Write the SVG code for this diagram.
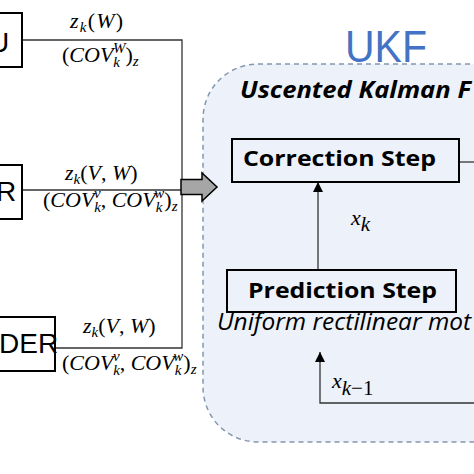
<svg xmlns="http://www.w3.org/2000/svg" width="474" height="474" viewBox="0 0 474 474">
<style>
.box{fill:#fff;stroke:#000;stroke-width:2}
.step{fill:none;stroke:#000;stroke-width:2}
.ln{fill:none;stroke:#333;stroke-width:1.3}
.src{font-family:"Liberation Sans",Arial,sans-serif;font-size:28px;fill:#000}
.m{font-family:"Liberation Serif","Times New Roman",serif;font-style:italic;font-size:22px;fill:#000}
.sub{font-size:15px}
.bold{font-family:"Open Sans","Liberation Sans",sans-serif;font-weight:bold;font-size:22px;fill:#000}
.it{font-family:"Open Sans","Liberation Sans",sans-serif;font-style:italic;font-size:23px;fill:#000}
</style>
<defs>
<marker id="ah" viewBox="0 0 10 10" refX="10" refY="5" markerWidth="10" markerHeight="10" markerUnits="userSpaceOnUse" orient="auto">
<path d="M0,0 L10,5 L0,10 z" fill="#000"/>
</marker>
</defs>
<rect width="474" height="474" fill="#fff"/>
<g id="ukf-container">
<rect x="203" y="64" width="340" height="378" rx="55" ry="55" fill="#edf1f9" stroke="#8497b0" stroke-width="1.5" stroke-dasharray="5,4"/>
<text x="386" y="62" text-anchor="middle" font-family="'Liberation Sans',Arial,sans-serif" font-size="44" fill="#4472c4" textLength="82" lengthAdjust="spacingAndGlyphs">UKF</text>
<text x="240" y="98" font-family="'Open Sans','Liberation Sans',sans-serif" font-weight="bold" font-style="italic" font-size="23" fill="#000" textLength="231" lengthAdjust="spacingAndGlyphs">Uscented Kalman F</text>
</g>
<g id="connectors">
<path class="ln" d="M22,40 H182 V348 H55"/>
<path class="ln" d="M22,190 H182"/>
<path d="M181,179.5 H202 V173 L217,187 L202,201 V194.5 H181 z" fill="#a6a6a6" stroke="#000" stroke-width="1.5"/>
<path class="ln" d="M459,162 H474"/>
<line class="ln" x1="318" y1="270" x2="318" y2="182" marker-end="url(#ah)"/>
<path class="ln" d="M474,403 H320 V352" marker-end="url(#ah)"/>
</g>
<g id="node-u">
<rect class="box" x="-40" y="13" width="62" height="54"/>
<text class="src" x="-11" y="52">U</text>
</g>
<g id="node-r">
<rect class="box" x="-40" y="165" width="62" height="54"/>
<text class="src" x="-4" y="201">R</text>
</g>
<g id="node-der">
<rect class="box" x="-40" y="317" width="95" height="54"/>
<text class="src" x="-1" y="353">DER</text>
</g>
<g id="labels-u">
<text class="m" x="70" y="28" textLength="53">z<tspan class="sub" dy="4">k</tspan><tspan dy="-4" font-style="normal">(</tspan>W<tspan font-style="normal">)</tspan></text>
<text class="m" x="62" y="62"><tspan font-style="normal">(</tspan>COV<tspan class="sub" dy="5">k</tspan><tspan class="sub" dx="-7" dy="-14">W</tspan><tspan dy="9" font-style="normal">)</tspan><tspan class="sub" dy="4">z</tspan></text>
</g>
<g id="labels-r">
<text class="m" x="65" y="180">z<tspan class="sub" dy="4">k</tspan><tspan dy="-4" font-style="normal">(</tspan>V<tspan font-style="normal">, </tspan>W<tspan font-style="normal">)</tspan></text>
<text class="m" x="43" y="207"><tspan font-style="normal">(</tspan>COV<tspan class="sub" dy="5">k</tspan><tspan class="sub" dx="-7" dy="-14">v</tspan><tspan dy="9" font-style="normal">, </tspan>COV<tspan class="sub" dy="5">k</tspan><tspan class="sub" dx="-8" dy="-14">w</tspan><tspan dy="9" font-style="normal">)</tspan><tspan class="sub" dy="4">z</tspan></text>
</g>
<g id="labels-der">
<text class="m" x="83" y="333">z<tspan class="sub" dy="4">k</tspan><tspan dy="-4" font-style="normal">(</tspan>V<tspan font-style="normal">, </tspan>W<tspan font-style="normal">)</tspan></text>
<text class="m" x="62" y="370"><tspan font-style="normal">(</tspan>COV<tspan class="sub" dy="5">k</tspan><tspan class="sub" dx="-7" dy="-14">v</tspan><tspan dy="9" font-style="normal">, </tspan>COV<tspan class="sub" dy="5">k</tspan><tspan class="sub" dx="-8" dy="-14">w</tspan><tspan dy="9" font-style="normal">)</tspan><tspan class="sub" dy="4">z</tspan></text>
</g>
<g id="node-correction">
<rect class="step" x="232" y="139" width="227" height="43"/>
<text class="bold" x="243" y="166" textLength="193" lengthAdjust="spacingAndGlyphs">Correction Step</text>
</g>
<g id="node-prediction">
<rect class="step" x="227" y="270" width="229" height="42"/>
<text class="bold" x="248" y="298" textLength="189" lengthAdjust="spacingAndGlyphs">Prediction Step</text>
<text class="it" x="217" y="330" textLength="254" lengthAdjust="spacingAndGlyphs">Uniform rectilinear mot</text>
</g>
<g id="label-xk">
<text class="m" x="351" y="225" font-size="30">x<tspan font-size="21" dy="6">k</tspan></text>
</g>
<g id="label-xk1">
<text class="m" x="332" y="388" font-size="30">x<tspan font-size="21" dy="7">k<tspan font-style="normal">−1</tspan></tspan></text>
</g>
</svg>
